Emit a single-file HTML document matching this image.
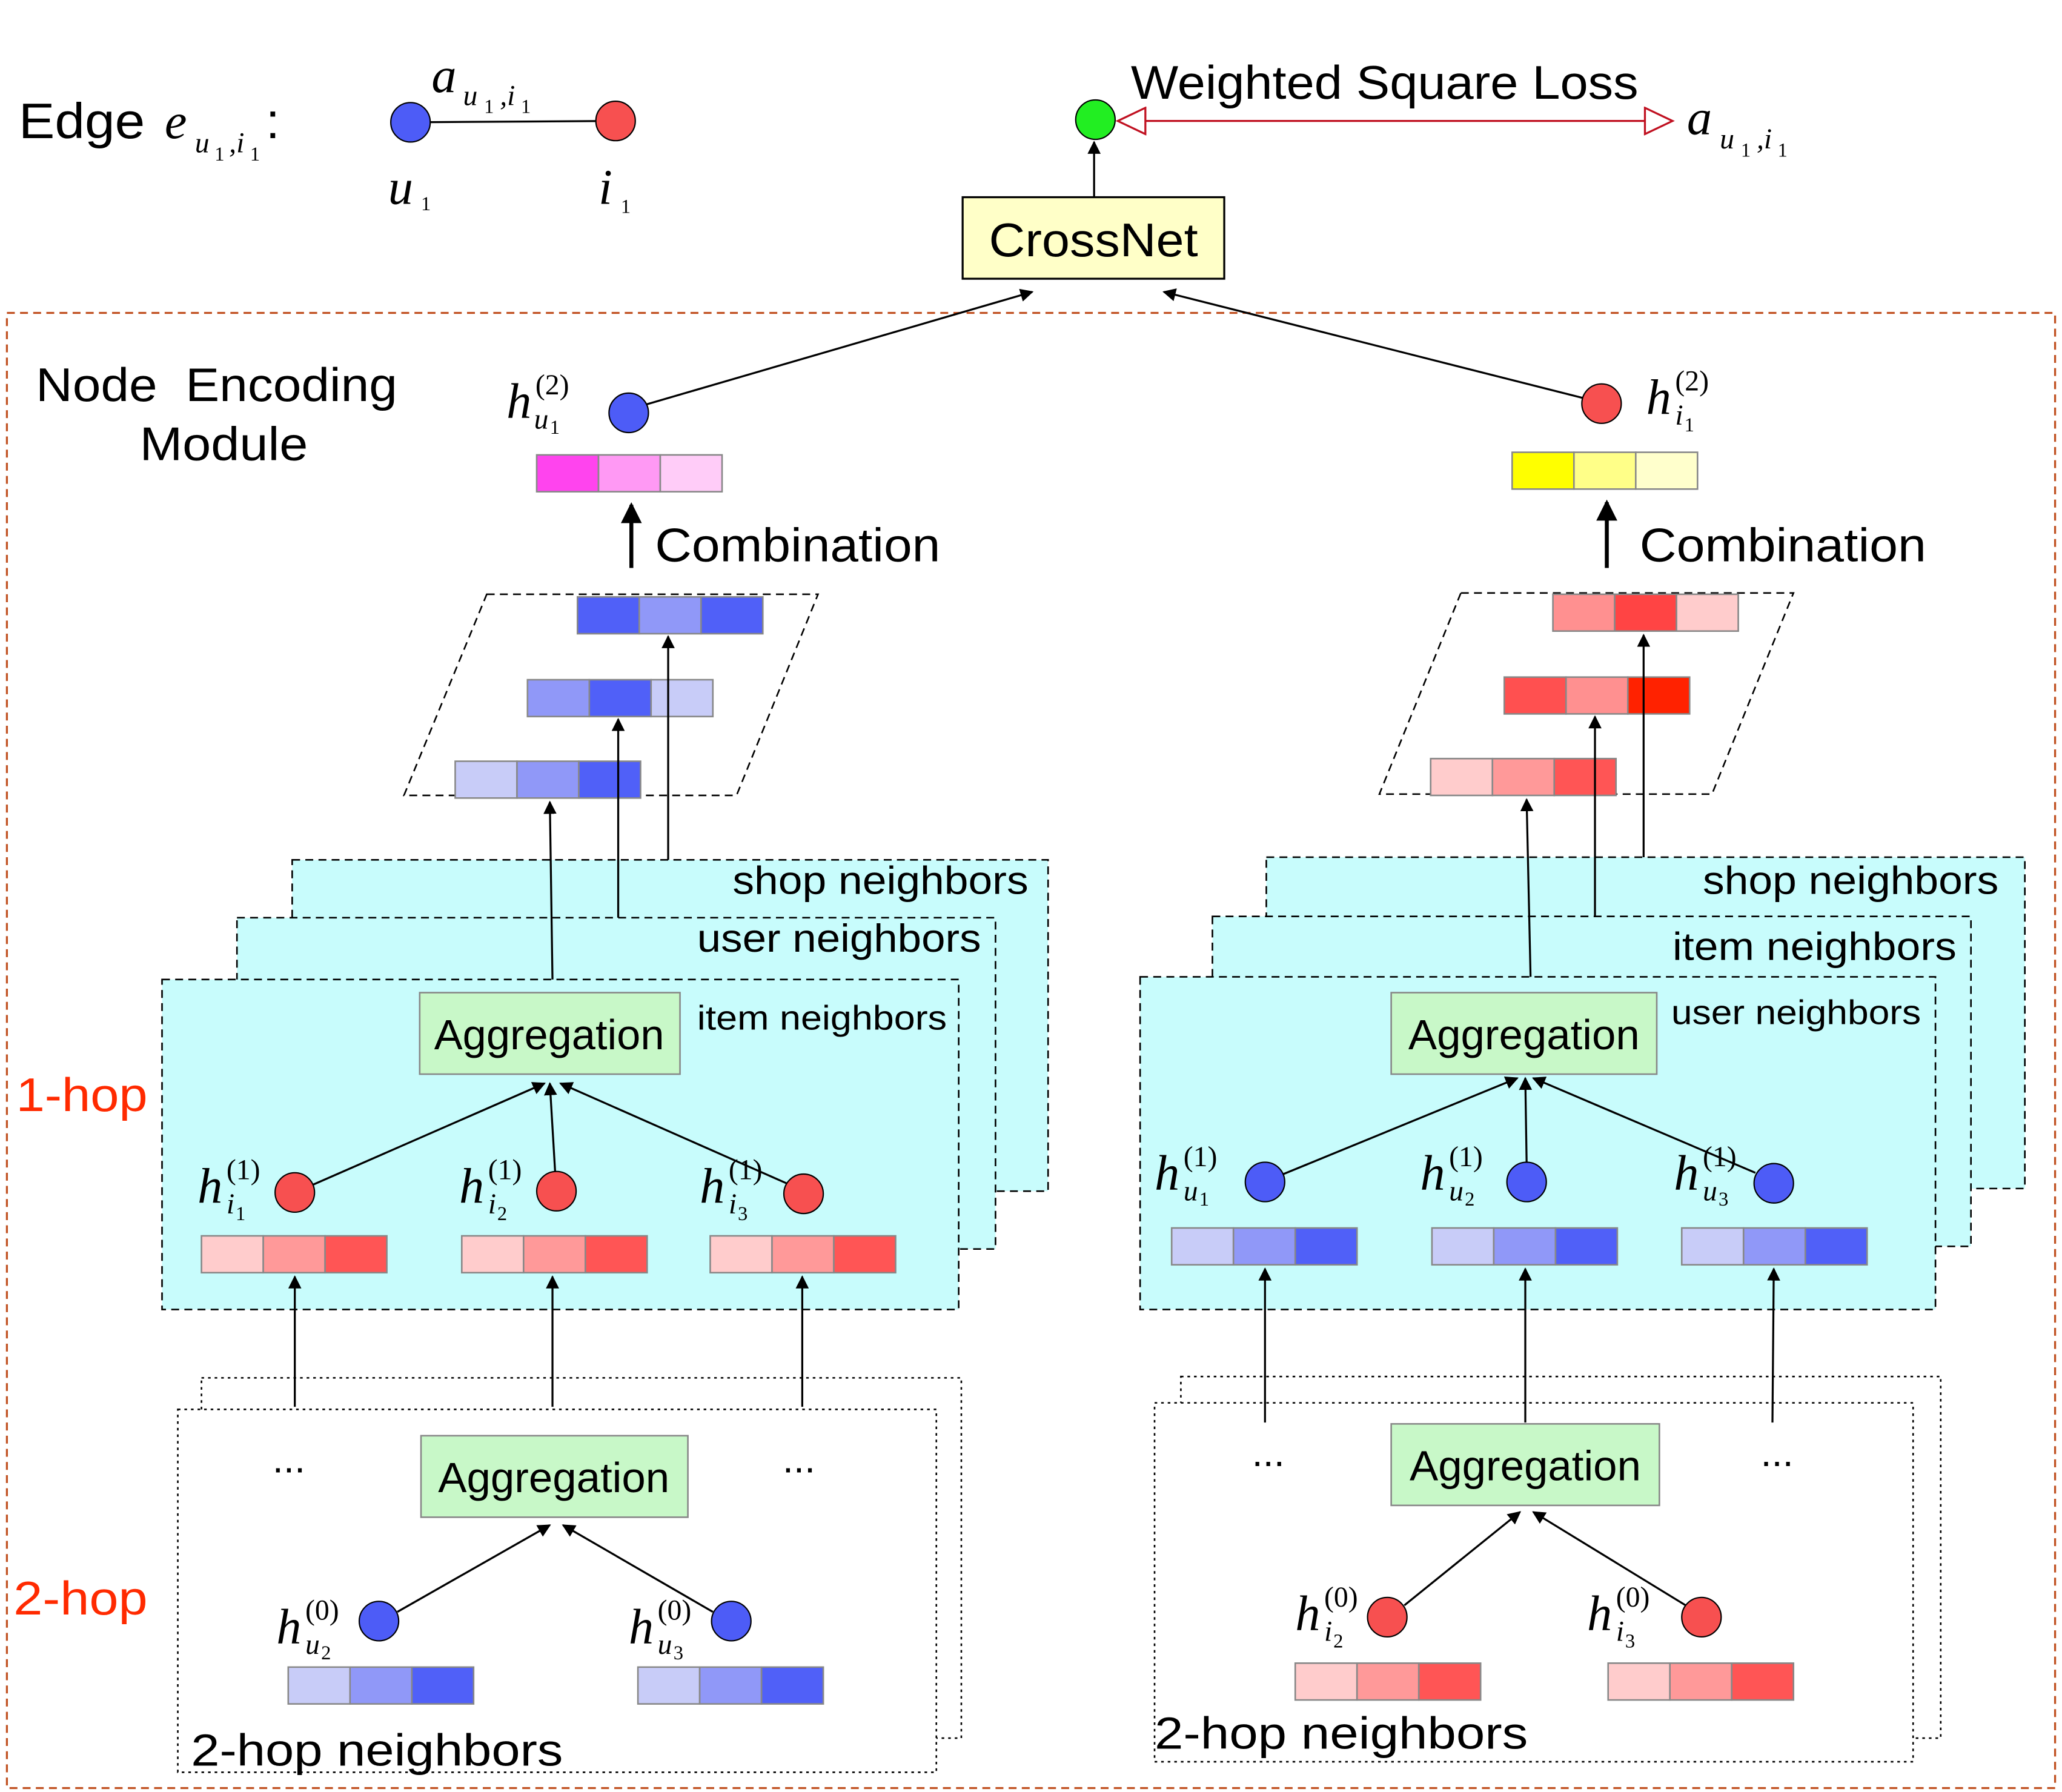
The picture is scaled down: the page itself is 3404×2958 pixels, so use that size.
<!DOCTYPE html>
<html><head><meta charset="utf-8"><style>
html,body{margin:0;padding:0;background:#fff}
svg{display:block}
.t{font-family:"Liberation Sans",sans-serif;fill:#000}
.m{font-family:"Liberation Serif",serif;font-style:italic;font-size:38px}
.sp{font-family:"Liberation Serif",serif;font-size:22px}
.sb{font-family:"Liberation Serif",serif;font-style:italic;font-size:22px}
.ss{font-family:"Liberation Serif",serif;font-size:15px}
</style></head><body>
<svg width="3404" height="2958" viewBox="0 0 1568 1363" xmlns="http://www.w3.org/2000/svg">
<defs>
<marker id="a" markerWidth="10" markerHeight="10" refX="9" refY="5" orient="auto" markerUnits="userSpaceOnUse"><path d="M0,0 L10,5 L0,10 z" fill="#000"/></marker>
<marker id="ab" markerWidth="16" markerHeight="16" refX="14" refY="8" orient="auto" markerUnits="userSpaceOnUse"><path d="M0,0 L16,8 L0,16 z" fill="#000"/></marker>
<marker id="ro" markerWidth="24" markerHeight="22" refX="22" refY="11" orient="auto" markerUnits="userSpaceOnUse"><path d="M1,1 L22,11 L1,21 z" fill="#fff" stroke="#c01020" stroke-width="1.5"/></marker>
<marker id="rs" markerWidth="24" markerHeight="22" refX="2" refY="11" orient="auto" markerUnits="userSpaceOnUse"><path d="M23,1 L2,11 L23,21 z" fill="#fff" stroke="#c01020" stroke-width="1.5"/></marker>
</defs>

<!-- top edge -->
<text class="t" x="14" y="105" font-size="38" textLength="96" lengthAdjust="spacingAndGlyphs">Edge</text>
<text class="m" x="125" y="105" font-size="44">e</text><text class="sb" x="148" y="116" font-size="28">u</text><text class="ss" x="163" y="122" font-size="20">1</text><text class="sb" x="174" y="116" font-size="28">,i</text><text class="ss" x="190" y="122" font-size="20">1</text><text class="t" x="202" y="105" font-size="38">:</text>
<line x1="312" y1="93" x2="468" y2="92" stroke="#000" stroke-width="1.5"/>
<circle cx="312" cy="93" r="15" fill="#4d5cf7" stroke="#000"/>
<circle cx="468" cy="92" r="15" fill="#f75050" stroke="#000"/>
<text class="m" x="328" y="70" font-size="44">a</text><text class="sb" x="352" y="80" font-size="28">u</text><text class="ss" x="368" y="86" font-size="20">1</text><text class="sb" x="380" y="80" font-size="28">,i</text><text class="ss" x="396" y="86" font-size="20">1</text>
<text class="m" x="295" y="155" font-size="46">u</text><text class="ss" x="320" y="160" font-size="28">1</text>
<text class="m" x="455" y="155" font-size="46">i</text><text class="ss" x="472" y="162" font-size="28">1</text>

<line x1="850" y1="92" x2="1272" y2="92" stroke="#c01020" stroke-width="1.5" marker-end="url(#ro)" marker-start="url(#rs)"/>
<circle cx="833" cy="91" r="15" fill="#22ee22" stroke="#000"/>
<text class="t" x="860" y="75" font-size="36" textLength="386" lengthAdjust="spacingAndGlyphs">Weighted Square Loss</text>
<text class="m" x="1283" y="102" font-size="44">a</text><text class="sb" x="1308" y="113" font-size="28">u</text><text class="ss" x="1324" y="119" font-size="20">1</text><text class="sb" x="1336" y="113" font-size="28">,i</text><text class="ss" x="1352" y="119" font-size="20">1</text>
<line x1="832" y1="150" x2="832" y2="108" stroke="#000" stroke-width="1.5" marker-end="url(#a)"/>
<rect x="732" y="150" width="199" height="62" fill="#ffffc8" stroke="#000" stroke-width="1.5"/>
<text class="t" x="752" y="195" font-size="36" textLength="159" lengthAdjust="spacingAndGlyphs">CrossNet</text>

<rect x="5" y="238" width="1558" height="1122" fill="none" stroke="#c05020" stroke-width="1.5" stroke-dasharray="6,4"/>
<line x1="490" y1="308" x2="785" y2="222" stroke="#000" stroke-width="1.5" marker-end="url(#a)"/>
<line x1="1205" y1="303" x2="885" y2="222" stroke="#000" stroke-width="1.5" marker-end="url(#a)"/>
<text class="t" x="27" y="305" font-size="36" xml:space="preserve" textLength="275" lengthAdjust="spacingAndGlyphs">Node  Encoding</text>
<text class="t" x="106" y="350" font-size="36" textLength="128" lengthAdjust="spacingAndGlyphs">Module</text>

<circle cx="478" cy="314" r="15" fill="#4d5cf7" stroke="#000"/>
<text class="m" x="385" y="318">h</text><text class="sp" x="407" y="300">(2)</text><text class="sb" x="406" y="326">u</text><text class="ss" x="418" y="330">1</text>
<g stroke="#888" stroke-width="1.2"><rect x="408" y="346" width="47" height="28" fill="#ff44ee"/><rect x="455" y="346" width="47" height="28" fill="#ff99f4"/><rect x="502" y="346" width="47" height="28" fill="#ffccf8"/></g>
<circle cx="1218" cy="307" r="15" fill="#f75050" stroke="#000"/>
<text class="m" x="1252" y="315">h</text><text class="sp" x="1274" y="297">(2)</text><text class="sb" x="1274" y="323">i</text><text class="ss" x="1281" y="328">1</text>
<g stroke="#888" stroke-width="1.2"><rect x="1150" y="344" width="47" height="28" fill="#ffff00"/><rect x="1197" y="344" width="47" height="28" fill="#ffff88"/><rect x="1244" y="344" width="47" height="28" fill="#ffffcc"/></g>

<line x1="480" y1="432" x2="480" y2="384" stroke="#000" stroke-width="3" marker-end="url(#ab)"/>
<text class="t" x="498" y="427" font-size="36" textLength="217" lengthAdjust="spacingAndGlyphs">Combination</text>
<line x1="1222" y1="432" x2="1222" y2="382" stroke="#000" stroke-width="3" marker-end="url(#ab)"/>
<text class="t" x="1247" y="427" font-size="36" textLength="218" lengthAdjust="spacingAndGlyphs">Combination</text>

<!-- LEFT -->
<polygon points="370,452 622,452 560,605 307,605" fill="none" stroke="#000" stroke-width="1.2" stroke-dasharray="6,4"/>
<g stroke="#888" stroke-width="1.2">
<rect x="439" y="454" width="47" height="28" fill="#5060f8"/><rect x="486" y="454" width="47" height="28" fill="#9098f8"/><rect x="533" y="454" width="47" height="28" fill="#5060f8"/>
<rect x="401" y="517" width="47" height="28" fill="#9098f8"/><rect x="448" y="517" width="47" height="28" fill="#5060f8"/><rect x="495" y="517" width="47" height="28" fill="#c8ccf8"/>
<rect x="346" y="579" width="47" height="28" fill="#c8ccf8"/><rect x="393" y="579" width="47" height="28" fill="#9098f8"/><rect x="440" y="579" width="47" height="28" fill="#5060f8"/>
</g>

<g fill="#c8fcfc" stroke="#000" stroke-width="1.2" stroke-dasharray="6,4">
<rect x="222" y="654" width="575" height="252"/>
<rect x="180" y="698" width="577" height="252"/>
<rect x="123" y="745" width="606" height="251"/>
</g>
<g stroke="#000" stroke-width="1.5">
<line x1="420" y1="745" x2="418" y2="610" marker-end="url(#a)"/>
<line x1="470" y1="698" x2="470" y2="547" marker-end="url(#a)"/>
<line x1="508" y1="654" x2="508" y2="484" marker-end="url(#a)"/>
</g>
<text class="t" x="557" y="680" font-size="30" textLength="225" lengthAdjust="spacingAndGlyphs">shop neighbors</text>
<text class="t" x="530" y="724" font-size="30" textLength="216" lengthAdjust="spacingAndGlyphs">user neighbors</text>
<text class="t" x="530" y="783" font-size="26" textLength="190" lengthAdjust="spacingAndGlyphs">item neighbors</text>
<rect x="319" y="755" width="198" height="62" fill="#c8f8c8" stroke="#888" stroke-width="1.2"/>
<text class="t" x="330" y="798" font-size="32" textLength="175" lengthAdjust="spacingAndGlyphs">Aggregation</text>
<g stroke="#000" stroke-width="1.5">
<line x1="238" y1="901" x2="414" y2="824" marker-end="url(#a)"/>
<line x1="422" y1="891" x2="418" y2="824" marker-end="url(#a)"/>
<line x1="598" y1="900" x2="426" y2="824" marker-end="url(#a)"/>
</g>
<circle cx="224" cy="907" r="15" fill="#f75050" stroke="#000"/>
<circle cx="423" cy="906" r="15" fill="#f75050" stroke="#000"/>
<circle cx="611" cy="908" r="15" fill="#f75050" stroke="#000"/>
<text class="m" x="150" y="915">h</text><text class="sp" x="172" y="897">(1)</text><text class="sb" x="172" y="923">i</text><text class="ss" x="179" y="928">1</text>
<text class="m" x="349" y="915">h</text><text class="sp" x="371" y="897">(1)</text><text class="sb" x="371" y="923">i</text><text class="ss" x="378" y="928">2</text>
<text class="m" x="532" y="915">h</text><text class="sp" x="554" y="897">(1)</text><text class="sb" x="554" y="923">i</text><text class="ss" x="561" y="928">3</text>
<g stroke="#888" stroke-width="1.2">
<rect x="153" y="940" width="47" height="28" fill="#ffcccc"/><rect x="200" y="940" width="47" height="28" fill="#ff9999"/><rect x="247" y="940" width="47" height="28" fill="#ff5555"/>
<rect x="351" y="940" width="47" height="28" fill="#ffcccc"/><rect x="398" y="940" width="47" height="28" fill="#ff9999"/><rect x="445" y="940" width="47" height="28" fill="#ff5555"/>
<rect x="540" y="940" width="47" height="28" fill="#ffcccc"/><rect x="587" y="940" width="47" height="28" fill="#ff9999"/><rect x="634" y="940" width="47" height="28" fill="#ff5555"/>
</g>
<g fill="#fff" stroke="#000" stroke-width="1.2" stroke-dasharray="2,3">
<rect x="153" y="1048" width="578" height="274"/>
<rect x="135" y="1072" width="577" height="276"/>
</g>
<g stroke="#000" stroke-width="1.5">
<line x1="224" y1="1070" x2="224" y2="971" marker-end="url(#a)"/>
<line x1="420" y1="1070" x2="420" y2="971" marker-end="url(#a)"/>
<line x1="610" y1="1070" x2="610" y2="971" marker-end="url(#a)"/>
</g>
<text class="t" x="207" y="1120" font-size="30">...</text>
<text class="t" x="595" y="1120" font-size="30">...</text>
<rect x="320" y="1092" width="203" height="62" fill="#c8f8c8" stroke="#888" stroke-width="1.2"/>
<text class="t" x="333" y="1135" font-size="32" textLength="176" lengthAdjust="spacingAndGlyphs">Aggregation</text>
<g stroke="#000" stroke-width="1.5">
<line x1="302" y1="1226" x2="418" y2="1160" marker-end="url(#a)"/>
<line x1="542" y1="1226" x2="428" y2="1160" marker-end="url(#a)"/>
</g>
<circle cx="288" cy="1233" r="15" fill="#4d5cf7" stroke="#000"/>
<circle cx="556" cy="1233" r="15" fill="#4d5cf7" stroke="#000"/>
<text class="m" x="210" y="1250">h</text><text class="sp" x="232" y="1232">(0)</text><text class="sb" x="232" y="1258">u</text><text class="ss" x="244" y="1262">2</text>
<text class="m" x="478" y="1250">h</text><text class="sp" x="500" y="1232">(0)</text><text class="sb" x="500" y="1258">u</text><text class="ss" x="512" y="1262">3</text>
<g stroke="#888" stroke-width="1.2">
<rect x="219" y="1268" width="47" height="28" fill="#c8ccf8"/><rect x="266" y="1268" width="47" height="28" fill="#9098f8"/><rect x="313" y="1268" width="47" height="28" fill="#5060f8"/>
<rect x="485" y="1268" width="47" height="28" fill="#c8ccf8"/><rect x="532" y="1268" width="47" height="28" fill="#9098f8"/><rect x="579" y="1268" width="47" height="28" fill="#5060f8"/>
</g>
<text class="t" x="145" y="1343" font-size="34" textLength="283" lengthAdjust="spacingAndGlyphs">2-hop neighbors</text>
<text class="t" x="12" y="845" font-size="36" style="fill:#ff2a00" textLength="100" lengthAdjust="spacingAndGlyphs">1-hop</text>
<text class="t" x="10" y="1228" font-size="36" style="fill:#ff2a00" textLength="102" lengthAdjust="spacingAndGlyphs">2-hop</text>

<!-- RIGHT -->
<polygon points="1111,451 1364,451 1302,604 1049,604" fill="none" stroke="#000" stroke-width="1.2" stroke-dasharray="6,4"/>
<g stroke="#888" stroke-width="1.2">
<rect x="1181" y="452" width="47" height="28" fill="#ff9090"/><rect x="1228" y="452" width="47" height="28" fill="#ff4444"/><rect x="1275" y="452" width="47" height="28" fill="#ffcccc"/>
<rect x="1144" y="515" width="47" height="28" fill="#ff5050"/><rect x="1191" y="515" width="47" height="28" fill="#ff9090"/><rect x="1238" y="515" width="47" height="28" fill="#ff2200"/>
<rect x="1088" y="577" width="47" height="28" fill="#ffcccc"/><rect x="1135" y="577" width="47" height="28" fill="#ff9999"/><rect x="1182" y="577" width="47" height="28" fill="#ff5555"/>
</g>
<g fill="#c8fcfc" stroke="#000" stroke-width="1.2" stroke-dasharray="6,4">
<rect x="963" y="652" width="577" height="252"/>
<rect x="922" y="697" width="577" height="251"/>
<rect x="867" y="743" width="605" height="253"/>
</g>
<g stroke="#000" stroke-width="1.5">
<line x1="1213" y1="697" x2="1213" y2="545" marker-end="url(#a)"/>
<line x1="1250" y1="652" x2="1250" y2="483" marker-end="url(#a)"/>
<line x1="1164" y1="743" x2="1161" y2="608" marker-end="url(#a)"/>
</g>
<text class="t" x="1295" y="680" font-size="30" textLength="225" lengthAdjust="spacingAndGlyphs">shop neighbors</text>
<text class="t" x="1272" y="730" font-size="30" textLength="216" lengthAdjust="spacingAndGlyphs">item neighbors</text>
<text class="t" x="1271" y="779" font-size="26" textLength="190" lengthAdjust="spacingAndGlyphs">user neighbors</text>
<rect x="1058" y="755" width="202" height="62" fill="#c8f8c8" stroke="#888" stroke-width="1.2"/>
<text class="t" x="1071" y="798" font-size="32" textLength="176" lengthAdjust="spacingAndGlyphs">Aggregation</text>
<g stroke="#000" stroke-width="1.5">
<line x1="976" y1="893" x2="1154" y2="820" marker-end="url(#a)"/>
<line x1="1161" y1="884" x2="1160" y2="820" marker-end="url(#a)"/>
<line x1="1335" y1="892" x2="1166" y2="820" marker-end="url(#a)"/>
</g>
<circle cx="962" cy="899" r="15" fill="#4d5cf7" stroke="#000"/>
<circle cx="1161" cy="899" r="15" fill="#4d5cf7" stroke="#000"/>
<circle cx="1349" cy="900" r="15" fill="#4d5cf7" stroke="#000"/>
<text class="m" x="878" y="905">h</text><text class="sp" x="900" y="887">(1)</text><text class="sb" x="900" y="913">u</text><text class="ss" x="912" y="917">1</text>
<text class="m" x="1080" y="905">h</text><text class="sp" x="1102" y="887">(1)</text><text class="sb" x="1102" y="913">u</text><text class="ss" x="1114" y="917">2</text>
<text class="m" x="1273" y="905">h</text><text class="sp" x="1295" y="887">(1)</text><text class="sb" x="1295" y="913">u</text><text class="ss" x="1307" y="917">3</text>
<g stroke="#888" stroke-width="1.2">
<rect x="891" y="934" width="47" height="28" fill="#c8ccf8"/><rect x="938" y="934" width="47" height="28" fill="#9098f8"/><rect x="985" y="934" width="47" height="28" fill="#5060f8"/>
<rect x="1089" y="934" width="47" height="28" fill="#c8ccf8"/><rect x="1136" y="934" width="47" height="28" fill="#9098f8"/><rect x="1183" y="934" width="47" height="28" fill="#5060f8"/>
<rect x="1279" y="934" width="47" height="28" fill="#c8ccf8"/><rect x="1326" y="934" width="47" height="28" fill="#9098f8"/><rect x="1373" y="934" width="47" height="28" fill="#5060f8"/>
</g>
<g fill="#fff" stroke="#000" stroke-width="1.2" stroke-dasharray="2,3">
<rect x="898" y="1047" width="578" height="275"/>
<rect x="878" y="1067" width="577" height="273"/>
</g>
<g stroke="#000" stroke-width="1.5">
<line x1="962" y1="1082" x2="962" y2="965" marker-end="url(#a)"/>
<line x1="1160" y1="1082" x2="1160" y2="965" marker-end="url(#a)"/>
<line x1="1348" y1="1082" x2="1349" y2="965" marker-end="url(#a)"/>
</g>
<text class="t" x="952" y="1115" font-size="30">...</text>
<text class="t" x="1339" y="1115" font-size="30">...</text>
<rect x="1058" y="1083" width="204" height="62" fill="#c8f8c8" stroke="#888" stroke-width="1.2"/>
<text class="t" x="1072" y="1126" font-size="32" textLength="176" lengthAdjust="spacingAndGlyphs">Aggregation</text>
<g stroke="#000" stroke-width="1.5">
<line x1="1068" y1="1221" x2="1156" y2="1150" marker-end="url(#a)"/>
<line x1="1282" y1="1221" x2="1166" y2="1150" marker-end="url(#a)"/>
</g>
<circle cx="1055" cy="1230" r="15" fill="#f75050" stroke="#000"/>
<circle cx="1294" cy="1230" r="15" fill="#f75050" stroke="#000"/>
<text class="m" x="985" y="1240">h</text><text class="sp" x="1007" y="1222">(0)</text><text class="sb" x="1007" y="1248">i</text><text class="ss" x="1014" y="1253">2</text>
<text class="m" x="1207" y="1240">h</text><text class="sp" x="1229" y="1222">(0)</text><text class="sb" x="1229" y="1248">i</text><text class="ss" x="1236" y="1253">3</text>
<g stroke="#888" stroke-width="1.2">
<rect x="985" y="1265" width="47" height="28" fill="#ffcccc"/><rect x="1032" y="1265" width="47" height="28" fill="#ff9999"/><rect x="1079" y="1265" width="47" height="28" fill="#ff5555"/>
<rect x="1223" y="1265" width="47" height="28" fill="#ffcccc"/><rect x="1270" y="1265" width="47" height="28" fill="#ff9999"/><rect x="1317" y="1265" width="47" height="28" fill="#ff5555"/>
</g>
<text class="t" x="878" y="1330" font-size="34" textLength="284" lengthAdjust="spacingAndGlyphs">2-hop neighbors</text>
</svg>
</body></html>
